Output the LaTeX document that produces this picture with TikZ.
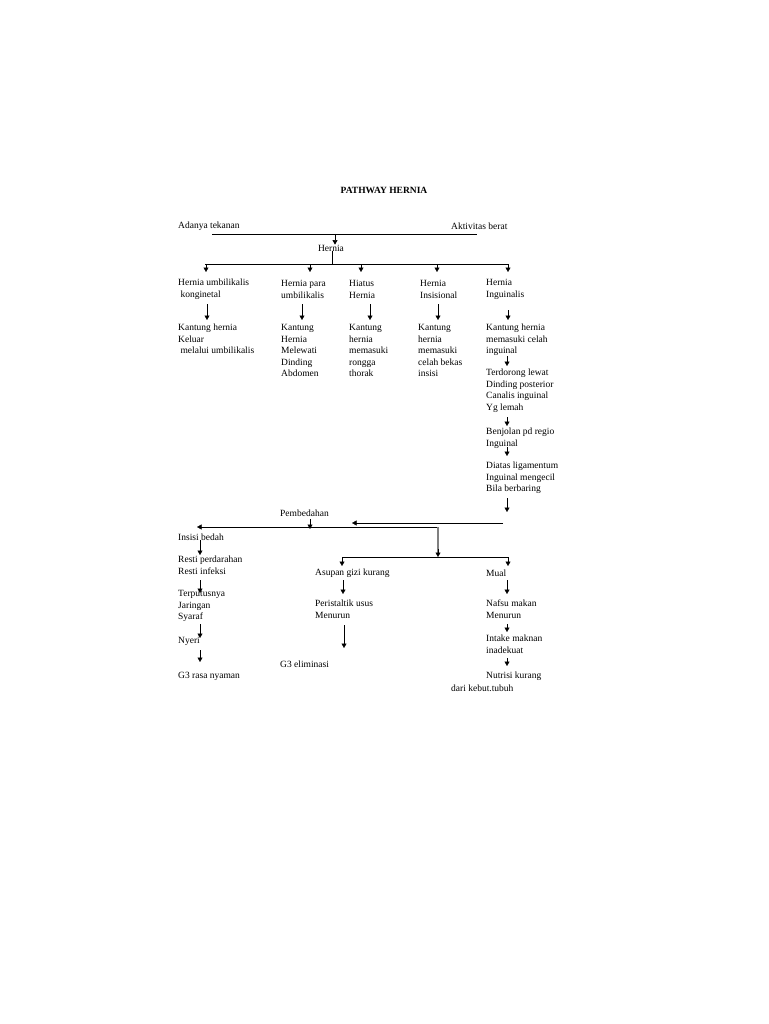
\documentclass[tikz,border=0pt]{standalone}
\usepackage{fontspec}
\setmainfont{Liberation Serif}
\usetikzlibrary{arrows.meta}
\begin{document}
\begin{tikzpicture}[x=1pt,y=-1pt,
  t/.style={anchor=west,inner sep=0pt,align=left,font=\fontsize{9.5}{11.6}\selectfont},
  arr/.style={-{Triangle[length=4.5pt,width=5pt]},line width=0.5pt},
  ln/.style={line width=0.5pt},
  gl/.style={line width=1.2pt,draw=gray}]
\useasboundingbox (0,0) rectangle (768,1024);
\node[font=\fontsize{9.5}{11}\selectfont\bfseries] (title) at (384,190) {PATHWAY HERNIA};
\node[t] (adanya) at (178,226) {Adanya tekanan};
\node[t] (aktiv) at (451,226) {Aktivitas berat};
\coordinate (top1) at (335,234);
\draw[ln] (212,234) -- (477,234);
\node[t,anchor=center] (hernia) at (331,248) {Hernia};
\draw[arr] (top1) -- (hernia.north -| top1);
\coordinate (hbar) at (332,264);
\draw[ln] (hernia.south -| hbar) -- (hbar);
\draw[ln] (205,264) -- (508,264);
% row 1
\node[t] (h1) at (178,289.5) {Hernia umbilikalis\\\ konginetal};
\node[t] (h2) at (281,289.5) {Hernia para\\umbilikalis};
\node[t] (h3) at (349,289.5) {Hiatus\\Hernia};
\node[t] (h4) at (420,289.5) {Hernia\\Insisional};
\node[t] (h5) at (486,289.5) {Hernia\\Inguinalis};
\foreach \x/\n in {206/h1,310/h2,361/h3,437/h4,508/h5}
  \draw[arr] (\x,264) -- (\x,272);
% row 2
\node[t,anchor=north west] (k1) at (178,324) {Kantung hernia\\Keluar\\\ melalui umbilikalis};
\node[t,anchor=north west] (k2) at (281,324) {Kantung\\Hernia\\Melewati\\Dinding\\Abdomen};
\node[t,anchor=north west] (k3) at (349,324) {Kantung\\hernia\\memasuki\\rongga\\thorak};
\node[t,anchor=north west] (k4) at (418,324) {Kantung\\hernia\\memasuki\\celah bekas\\insisi};
\node[t,anchor=north west] (k5) at (486,324) {Kantung hernia\\memasuki celah\\inguinal};
\draw[arr] (207,304) -- (207,320);
\draw[arr] (302,304) -- (302,320);
\draw[arr] (370,304) -- (370,320);
\draw[arr] (438,304) -- (438,320);
\draw[arr] (508,310) -- (508,320);
\node[t,anchor=north west] (ter) at (486,369) {Terdorong lewat\\Dinding posterior\\Canalis inguinal\\Yg lemah};
\draw[arr] (507,356) -- (507,366);
\node[t,anchor=north west] (ben) at (486,428) {Benjolan pd regio\\Inguinal};
\draw[arr] (507,417) -- (507,426);
\node[t,anchor=north west] (dia) at (486,462) {Diatas ligamentum\\Inguinal mengecil\\Bila berbaring};
\draw[arr] (507,447) -- (507,456);
\draw[arr] (507,498) -- (507,512);
% pembedahan
\node[t] (pem) at (280,513) {Pembedahan};
\coordinate (rr) at (503,523);
\draw[arr] (rr) -- (352,523);
\draw[arr] (310,519) -- (310,529);
\draw[ln] (205,527) -- (438,527);
\node[t] (ins) at (178,537) {Insisi bedah};
\draw[arr] (205,527) -- (197,527);
\draw[gl] (438,527) -- (438,554);
\draw[ln] (342,557) -- (508,557);
\draw[-{Triangle[length=4.5pt,width=5pt]},line width=0.5pt] (438,549) -- (438,557);
% left column
\draw[arr] (200,540) -- (200,555);
\node[t,anchor=north west] (resti) at (178,556) {Resti perdarahan\\Resti infeksi};
\draw[arr] (200,580) -- (200,593);
\node[t,anchor=north west] (terp) at (178,590) {Terputusnya\\Jaringan\\Syaraf};
\draw[arr] (200,624) -- (200,638);
\node[t] (nyeri) at (178,641) {Nyeri};
\draw[arr] (200,650) -- (200,662);
\node[t] (g3a) at (178,676) {G3 rasa nyaman};
% middle
\draw[arr] (342,557) -- (342,566);
\node[t] (asu) at (315,573) {Asupan gizi kurang};
\draw[arr] (343,580) -- (343,594);
\node[t,anchor=north west] (per) at (315,600) {Peristaltik usus\\Menurun};
\draw[arr] (344,625) -- (344,648);
\node[t] (g3e) at (280,664) {G3 eliminasi};
% right
\draw[arr] (508,557) -- (508,566);
\node[t] (mual) at (486,573) {Mual};
\draw[arr] (507,580) -- (507,594);
\node[t,anchor=north west] (naf) at (486,600) {Nafsu makan\\Menurun};
\draw[arr] (507,624) -- (507,632);
\node[t,anchor=north west] (int) at (486,635) {Intake maknan\\inadekuat};
\draw[arr] (507,658) -- (507,666);
\node[t] (nut) at (486,676) {Nutrisi kurang};
\node[t] (dari) at (451,688) {dari kebut.tubuh};
\end{tikzpicture}
\end{document}
